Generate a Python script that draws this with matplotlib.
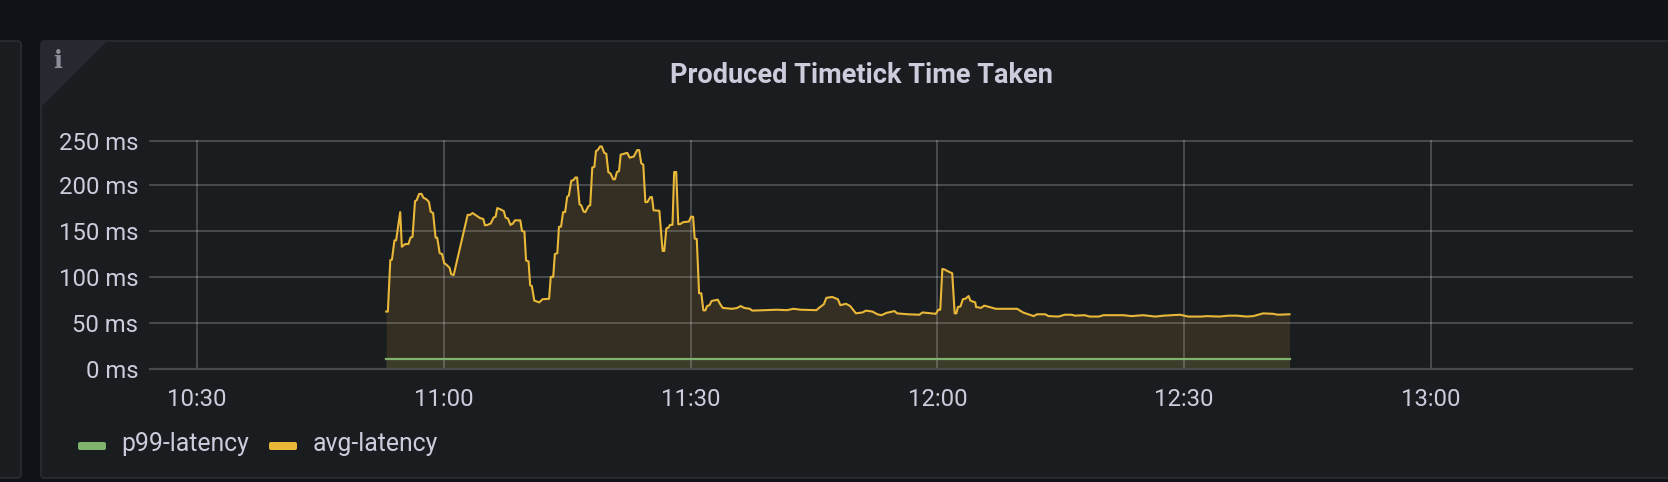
import matplotlib
matplotlib.use("Agg")
import matplotlib.pyplot as plt
from matplotlib.patches import FancyBboxPatch, Polygon

plt.rcParams['font.family'] = ['Roboto', 'DejaVu Sans']

# minutes after 10:30
avg_t = [23.0, 23.2, 23.5, 23.7, 24.0, 24.2, 24.7, 24.9, 25.3, 25.7, 25.95, 26.2, 26.5, 26.7, 27.0, 27.3,
         27.5, 27.9, 28.2, 28.4, 28.7, 29.0, 29.2, 29.5, 29.8, 30.05, 30.3, 30.7, 30.9, 31.2, 32.9, 33.2,
         33.5, 33.9, 34.4, 34.8, 35.0, 35.3, 35.7, 36.05, 36.3, 36.5, 36.9, 37.3, 37.5, 37.8, 38.1, 38.4,
         38.65, 39.3, 39.5, 39.8, 40.0, 40.3, 40.5, 40.7, 41.0, 41.3, 41.6, 42.0, 42.8, 43.0, 43.3, 43.5,
         43.8, 44.0, 44.25, 44.5, 44.75, 45.0, 45.2, 45.5, 45.75, 46.0, 46.2, 46.5, 46.7, 47.0, 47.2, 47.6,
         47.8, 48.05, 48.3, 48.5, 48.7, 49.0, 49.2, 49.5, 49.75, 50.0, 50.25, 50.6, 50.8, 51.05, 51.3, 51.5,
         51.9, 52.3, 52.6, 53.1, 53.5, 53.75, 54.0, 54.25, 54.5, 54.75, 55.1, 55.3, 55.5, 56.2, 56.6, 56.8,
         57.05, 57.3, 57.5, 57.8, 58.0, 58.25, 58.5, 58.75, 59.1, 59.8, 60.05, 60.3, 60.5, 60.75, 61.03, 61.3,
         61.55, 61.8, 62.0, 62.3, 62.55, 63.3, 63.6, 63.9, 65.0, 65.6, 66.1, 66.5, 67.2, 67.5, 68.9, 70.5,
         71.7, 72.5, 73.4, 75.3, 75.6, 76.2, 76.5, 77.2, 77.9, 78.2, 78.9, 79.4, 80.1, 80.9, 81.3, 82.1,
         82.7, 83.2, 83.8, 84.8, 85.1, 86.4, 87.8, 88.2, 89.8, 90.1, 90.35, 90.6, 90.9, 91.3, 91.8, 92.1,
         92.3, 92.5, 92.8, 93.1, 93.4, 93.8, 94.0, 94.6, 94.7, 95.3, 95.7, 97.1, 99.7, 100.4, 101.05, 101.7,
         102.1, 103.1, 103.5, 104.7, 105.5, 106.3, 106.7, 107.9, 108.5, 109.6, 110.2, 111.8, 112.6, 113.6,
         115.0, 116.5, 117.5, 118.5, 119.5, 120.5, 122.1, 122.7, 124.3, 125.4, 126.4, 127.6, 128.4, 129.6,
         130.8, 131.4, 132.8]
avg_ms = [63, 63, 119.5, 120, 141, 141, 172, 134, 137, 137, 144, 145, 184, 185, 192, 192,
          188, 186, 183, 172.5, 171, 144, 144, 127, 126, 116, 114.5, 111, 104, 103, 169, 169,
          171, 168.5, 165.5, 164.5, 157.5, 158, 159.5, 166, 167, 176.5, 175, 173, 166, 165, 158, 159.5,
          163, 163, 151.5, 150.5, 119, 118, 91.7, 91, 75, 74, 73, 76.5, 77, 101, 101, 126,
          127, 156, 156, 172, 172, 189, 190, 206.5, 207, 210, 210, 180.5, 179.5, 172.5, 172, 178.7,
          179.5, 221, 221.5, 239, 240, 244, 244, 237, 236, 215.7, 214.5, 208, 208, 216, 217, 235,
          236, 237, 231.7, 233, 240, 240, 225.5, 224, 183, 183, 188.5, 188.5, 174, 173.5, 129.4, 129.4,
          154, 155, 158, 158, 216, 216, 158.7, 159, 161, 161.7, 167, 167, 143, 142.5, 83, 83,
          64.3, 64.3, 69, 70, 74.6, 76, 71, 67, 66, 66.7, 69, 67, 66, 64, 64.5, 65,
          64.5, 66, 65, 64.5, 67, 71, 78, 79, 76.5, 70, 71.5, 69, 61, 62, 64, 63,
          60, 59, 61.5, 63.5, 61, 60, 59.5, 62, 60.5, 65, 65, 109.7, 109, 107, 105, 61,
          61, 68, 68.5, 76.5, 77, 80, 75, 73, 68, 67, 69.5, 66, 66, 62, 60, 58,
          60, 60, 58, 57.5, 59.5, 59.5, 58.5, 59, 57.5, 57.5, 59, 59, 59, 58,
          59, 57.5, 58.5, 59, 59.5, 57.5, 57.5, 58, 57.5, 58.5, 58.5, 57.5, 58, 61,
          60.5, 59.5, 60]
p99_t = [23.0, 132.8]
p99_ms = [11.3, 11.3]

# the gridlines in the picture are not quite evenly spaced, so ticks sit where they were drawn
y_ticks = [0, 50.4, 101, 151.5, 202, 250]
y_labels = ['0 ms', '50 ms', '100 ms', '150 ms', '200 ms', '250 ms']
x_ticks = [0, 30, 60, 90, 120, 150]
x_labels = ['10:30', '11:00', '11:30', '12:00', '12:30', '13:00']

W, H = 1668, 482
PAGE = '#111217'
PANEL = '#1a1d20'
BORDER = '#292b30'
TEXT = '#ccccdc'
GREEN = '#7eb26d'
YELLOW = '#eab839'

fig = plt.figure(figsize=(W / 100, H / 100), dpi=100, facecolor=PAGE)

# panel frames, in pixels
bg = fig.add_axes([0, 0, 1, 1])
bg.set_xlim(0, W)
bg.set_ylim(H, 0)
bg.axis('off')
for x0, x1 in [(-40, 21), (41, W + 40)]:
    bg.add_patch(FancyBboxPatch((x0, 41), x1 - x0, 437, boxstyle='round,pad=0,rounding_size=4',
                                fc=PANEL, ec=BORDER, lw=1.3))
bg.add_patch(Polygon([(42, 42), (106, 42), (42, 106)], fc='#262930', ec='none'))
bg.text(57.5, 68, 'i', family='DejaVu Serif', weight='bold', fontsize=17, color='#8e8e9a', ha='center', va='baseline')

bg.text(861.5, 83, 'Produced Timetick Time Taken', fontsize=19.5, weight='bold', color=TEXT, ha='center', va='baseline')

# legend
for x, name, col, tx in [(78, 'p99-latency', GREEN, 121.5), (269, 'avg-latency', YELLOW, 313)]:
    bg.add_patch(FancyBboxPatch((x, 442), 28, 8, boxstyle='round,pad=0,rounding_size=2', fc=col, ec='none'))
    bg.text(tx, 451, name, fontsize=17.8, color=TEXT, ha='left', va='baseline')

ax = fig.add_axes([150 / W, 1 - 369 / H, (1632 - 150) / W, (369 - 141) / H])
ax.patch.set_alpha(0)
px = (197 - 150) / (246.8 / 30)
ax.set_xlim(-px, (1632 - 197) / (246.8 / 30))
ax.set_ylim(0, 250)

ax.fill_between(avg_t, avg_ms, color='#f0ac3c', alpha=0.12, lw=0, zorder=1)
ax.fill_between(p99_t, p99_ms, color=GREEN, alpha=0.11, lw=0, zorder=1)
ax.grid(True, color='white', alpha=0.22, lw=1.3, zorder=2)
ax.set_axisbelow(False)
ax.plot(avg_t, avg_ms, color=YELLOW, lw=1.5, zorder=4, label='avg-latency')
ax.plot(p99_t, p99_ms, color=GREEN, lw=1.6, zorder=4, label='p99-latency')

ax.set_xticks(x_ticks, x_labels)
ax.set_yticks(y_ticks, y_labels)
ax.tick_params(length=0, colors=TEXT, labelsize=17.2)
ax.tick_params(axis='x', pad=13.5)
ax.tick_params(axis='y', pad=8.5)
for s in ['top', 'right', 'left']:
    ax.spines[s].set_visible(False)
ax.spines['bottom'].set_color('#47494c')
ax.spines['bottom'].set_linewidth(1.6)
ax.spines['bottom'].set_zorder(3)
for ln in ax.get_xgridlines() + ax.get_ygridlines():
    ln.set_clip_on(False)
ax.get_ygridlines()[0].set_visible(False)

fig.savefig('out.png', dpi=100, facecolor=PAGE)
